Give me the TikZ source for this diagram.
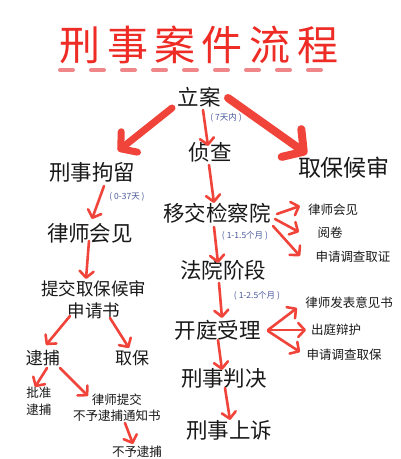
\documentclass[tikz,border=0pt]{standalone}
\usepackage{fontspec}
\newfontfamily\cjk{Noto Sans CJK SC}
\usetikzlibrary{arrows.meta}
\definecolor{ared}{HTML}{F0443A}
\definecolor{tred}{HTML}{EE2B25}
\definecolor{dpink}{HTML}{F0868A}
\definecolor{sblue}{HTML}{4B5A9C}
\begin{document}
\begin{tikzpicture}[x=1pt,y=-1pt,
  every node/.style={inner sep=0pt, text=black!90},
  big/.style={font=\cjk\fontsize{21.5}{24}\selectfont},
  mid/.style={font=\cjk\fontsize{17.5}{22}\selectfont, align=center},
  sm/.style={font=\cjk\fontsize{12.5}{16}\selectfont, align=center},
  note/.style={font=\cjk\fontsize{8.5}{10}\selectfont, text=sblue},
  ttl/.style={font=\cjk\fontsize{41}{44}\selectfont, text=tred},
  arr/.style={draw=ared, line width=2.6pt, line cap=round, -{Straight Barb[length=6.5pt,width=14pt,round]}},
  fatl/.style={draw=ared, line width=7pt, line cap=round, -{Straight Barb[length=11pt,width=26pt,round]}},
  fatr/.style={draw=ared, line width=8pt, line cap=round, -{Straight Barb[length=15pt,width=34pt,round]}},
]
\useasboundingbox (0,0) rectangle (400,459);
\fill[white] (0,0) rectangle (400,459);
% title
\node[ttl] (t1) at (80,45) {刑};
\node[ttl] (t2) at (128,45) {事};
\node[ttl] (t3) at (175,45) {案};
\node[ttl] (t4) at (222,45) {件};
\node[ttl] (t5) at (270,45) {流};
\node[ttl] (t6) at (318,45) {程};
\draw[dpink, line width=4pt, line cap=round, dash pattern=on 13pt off 18pt] (60,70) -- (326,70);
% nodes
\node[big] (lian) at (199,97) {立案};
\node[note] (n1) at (226,118) {( 7天内 )};
\node[big] (zhencha) at (210,152) {侦查};
\node[big] (juliu) at (92,172) {刑事拘留};
\node[font=\cjk\fontsize{23}{26}\selectfont] (qbhs) at (344,168) {取保候审};
\node[note] (n2) at (127,197) {( 0-37天 )};
\node[big] (lshj) at (90,233) {律师会见};
\node[mid] (tijiao) at (94,300) {提交取保候审\\申请书};
\node[font=\cjk\fontsize{17}{20}\selectfont] (daibu) at (43,358) {逮捕};
\node[font=\cjk\fontsize{17}{20}\selectfont] (qubao) at (132,358) {取保};
\node[sm, font=\cjk\fontsize{12.5}{17}\selectfont] (pizhun) at (39,401) {批准\\逮捕};
\node[sm] (lstj) at (117,408) {律师提交\\不予逮捕通知书};
\node[sm] (buyu) at (137,452) {不予逮捕};
\node[big] (yijiao) at (217,213) {移交检察院};
\node[note] (n3) at (245,236) {( 1-1.5个月 )};
\node[sm] (rlshj) at (333,210) {律师会见};
\node[sm] (yuejuan) at (330,233) {阅卷};
\node[sm] (sqdc) at (353,257) {申请调查取证};
\node[big] (fayuan) at (223,270) {法院阶段};
\node[note] (n4) at (257,296) {( 1-2.5个月 )};
\node[big] (kaiting) at (218,330) {开庭受理};
\node[sm] (lsfb) at (349,303) {律师发表意见书};
\node[sm] (chuting) at (336,330) {出庭辩护};
\node[sm] (sqdcqb) at (344,355) {申请调查取保};
\node[big] (panjue) at (224,378) {刑事判决};
\node[big] (shangsu) at (229,430) {刑事上诉};
% connectors
\draw[fatl] ([shift={(-27,11)}]lian.center) -- ([shift={(26,-21)}]juliu.center);
\draw[arr] ([shift={(4,13)}]lian.center) -- ([shift={(-2,-6)}]zhencha.center);
\draw[fatr] ([shift={(29,1)}]lian.center) -- ([shift={(-37,-14)}]qbhs.center);
\draw[arr] ([shift={(12,14)}]juliu.center) -- ([shift={(2,-14)}]lshj.center);
\draw[arr] ([shift={(-1,8)}]lshj.center) -- ([shift={(-8,-21)}]tijiao.center);
\draw[arr] ([shift={(-24,16)}]tijiao.center) -- ([shift={(3,-13)}]daibu.center);
\draw[arr] ([shift={(16,18)}]tijiao.center) -- ([shift={(-3,-10)}]qubao.center);
\draw[arr] ([shift={(4,10)}]daibu.center) -- ([shift={(-4,-14)}]pizhun.center);
\draw[arr] ([shift={(17,10)}]daibu.center) -- ([shift={(-29,-12)}]lstj.center);
\draw[arr] ([shift={(8,15)}]lstj.center) -- ([shift={(-4,-8)}]buyu.center);
\draw[arr] ([shift={(-1,13)}]zhencha.center) -- ([shift={(-3,-10)}]yijiao.center);
\draw[arr] ([shift={(-3,14)}]yijiao.center) -- ([shift={(-5,-7)}]fayuan.center);
\draw[arr] ([shift={(-4,13)}]fayuan.center) -- ([shift={(4,-12)}]kaiting.center);
\draw[arr] ([shift={(0,10)}]kaiting.center) -- ([shift={(-2,-8)}]panjue.center);
\draw[arr] ([shift={(1,10)}]panjue.center) -- ([shift={(1,-10)}]shangsu.center);
\draw[arr] ([shift={(60,1)}]yijiao.center) -- ([shift={(-33,-4)}]rlshj.center);
\draw[arr] ([shift={(58,6)}]yijiao.center) -- ([shift={(-31,-1)}]yuejuan.center);
\draw[arr] ([shift={(56,13)}]yijiao.center) -- ([shift={(-53,-1)}]sqdc.center);
\draw[arr] ([shift={(50,0)}]kaiting.center) -- ([shift={(-52,5)}]lsfb.center);
\draw[arr] ([shift={(50,0)}]kaiting.center) -- ([shift={(-30,0)}]chuting.center);
\draw[arr] ([shift={(50,1)}]kaiting.center) -- ([shift={(-44,-3)}]sqdcqb.center);
\end{tikzpicture}
\end{document}
